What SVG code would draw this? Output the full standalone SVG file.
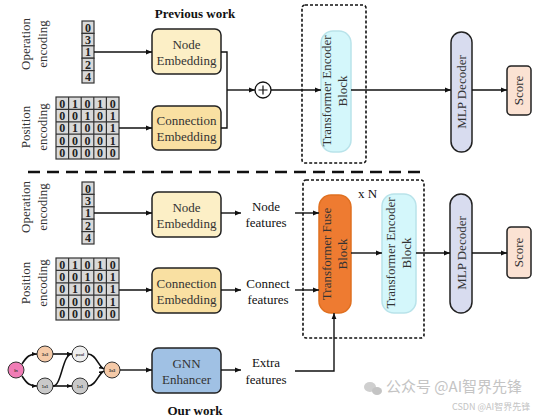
<svg xmlns="http://www.w3.org/2000/svg" xmlns:xlink="http://www.w3.org/1999/xlink" width="540" height="420" viewBox="0 0 540 420">
<defs>
<style>
.t{font-family:"Liberation Serif","Times New Roman",serif;font-size:13px;fill:#333;}
.b{font-weight:bold;fill:#111;}
.c{font-family:"Liberation Serif",serif;font-size:12px;font-weight:bold;fill:#222;text-anchor:middle;}
.cell{fill:#d9d9d9;stroke:#333;stroke-width:1.2;}
.box{stroke:#222;stroke-width:1.5;}
.ln{fill:none;stroke:#111;stroke-width:1.4;}
.gl{fill:none;stroke:#111;stroke-width:1.6;}
.gn{stroke:#333;stroke-width:1;}
.gt{font-family:"Liberation Sans",sans-serif;font-size:4px;font-weight:bold;fill:#333;text-anchor:middle;}
.m{text-anchor:middle;}
.wm{font-family:"Noto Sans CJK SC","Liberation Sans",sans-serif;fill:#c4c4c4;}
</style>
<marker id="ah" viewBox="0 0 10 10" refX="10" refY="5" markerWidth="6" markerHeight="6" orient="auto" markerUnits="userSpaceOnUse"><path d="M0,1 L10,5 L0,9 z" fill="#111"/></marker>
<marker id="ag" viewBox="0 0 10 10" refX="10" refY="5" markerWidth="5" markerHeight="5" orient="auto" markerUnits="userSpaceOnUse"><path d="M0,1 L10,5 L0,9 z" fill="#111"/></marker>
<g id="opcol">
<rect class="cell" x="0" y="0" width="12" height="12.4"/>
<rect class="cell" x="0" y="12.4" width="12" height="12.4"/>
<rect class="cell" x="0" y="24.8" width="12" height="12.4"/>
<rect class="cell" x="0" y="37.2" width="12" height="12.4"/>
<rect class="cell" x="0" y="49.6" width="12" height="12.4"/>
<text class="c" x="6" y="10.5">0</text>
<text class="c" x="6" y="22.9">3</text>
<text class="c" x="6" y="35.3">1</text>
<text class="c" x="6" y="47.7">2</text>
<text class="c" x="6" y="60.1">4</text>
</g>
<g id="matrix">
<rect class="cell" x="0" y="0" width="63" height="62"/>
<path d="M12.6,0V62M25.2,0V62M37.8,0V62M50.4,0V62M0,12.4H63M0,24.8H63M0,37.2H63M0,49.6H63" stroke="#333" stroke-width="1.2" fill="none"/>
<text class="c" y="10.5"><tspan x="6.3">0</tspan><tspan x="18.9">1</tspan><tspan x="31.5">0</tspan><tspan x="44.1">1</tspan><tspan x="56.7">0</tspan></text>
<text class="c" y="22.9"><tspan x="6.3">0</tspan><tspan x="18.9">0</tspan><tspan x="31.5">1</tspan><tspan x="44.1">0</tspan><tspan x="56.7">1</tspan></text>
<text class="c" y="35.3"><tspan x="6.3">0</tspan><tspan x="18.9">1</tspan><tspan x="31.5">0</tspan><tspan x="44.1">0</tspan><tspan x="56.7">1</tspan></text>
<text class="c" y="47.7"><tspan x="6.3">0</tspan><tspan x="18.9">0</tspan><tspan x="31.5">0</tspan><tspan x="44.1">0</tspan><tspan x="56.7">1</tspan></text>
<text class="c" y="60.1"><tspan x="6.3">0</tspan><tspan x="18.9">0</tspan><tspan x="31.5">0</tspan><tspan x="44.1">0</tspan><tspan x="56.7">0</tspan></text>
</g>
</defs>
<rect width="540" height="420" fill="#fff"/>

<!-- section titles -->
<text class="t b m" x="195" y="18">Previous work</text>
<text class="t b m" x="195" y="415">Our work</text>
<path d="M28,172 H420" stroke="#111" stroke-width="2.5" stroke-dasharray="12,7" fill="none"/>

<!-- dashed containers -->
<rect x="302" y="5" width="64" height="158" rx="3" fill="none" stroke="#111" stroke-width="1.6" stroke-dasharray="3,2"/>
<rect x="303" y="180" width="121" height="158" rx="3" fill="none" stroke="#111" stroke-width="1.6" stroke-dasharray="3,2"/>
<text class="t" x="358" y="198" style="fill:#111">x N</text>

<!-- ===== Previous work ===== -->
<g id="op-enc-top">
<text class="t" transform="translate(30,44) rotate(-90)" text-anchor="middle">Operation</text>
<text class="t" transform="translate(47,44) rotate(-90)" text-anchor="middle">encoding</text>
<use xlink:href="#opcol" x="82" y="21"/>
</g>
<g id="pos-enc-top">
<text class="t" transform="translate(30,127) rotate(-90)" text-anchor="middle">Position</text>
<text class="t" transform="translate(47,127) rotate(-90)" text-anchor="middle">encoding</text>
<use xlink:href="#matrix" x="56" y="97"/>
</g>
<g id="node-emb-top">
<rect class="box" x="152" y="29" width="69" height="45" rx="6" fill="#fcefc6"/>
<text class="t m" x="186.5" y="48.5">Node</text>
<text class="t m" x="186.5" y="64.5">Embedding</text>
</g>
<g id="conn-emb-top">
<rect class="box" x="152" y="106" width="69" height="44" rx="6" fill="#f9e0a2"/>
<text class="t m" x="186.5" y="125">Connection</text>
<text class="t m" x="186.5" y="141">Embedding</text>
</g>
<g id="plus">
<circle cx="263" cy="90" r="8" fill="#fff" stroke="#111" stroke-width="1.3"/>
<path d="M258.5,90H267.5M263,85.5V94.5" stroke="#111" stroke-width="1.2"/>
</g>
<g id="enc-top">
<rect class="box" x="321" y="31" width="30" height="121" rx="12" fill="#d4f7fb" stroke="#bfe6ee" style="stroke:#b9e3ea"/>
<text class="t" transform="translate(331,91) rotate(-90)" text-anchor="middle">Transformer Encoder</text>
<text class="t" transform="translate(347,91) rotate(-90)" text-anchor="middle">Block</text>
</g>
<g id="mlp-top">
<rect class="box" x="451" y="32" width="21" height="120" rx="10.5" fill="#d8dcef"/>
<text class="t" transform="translate(466,92) rotate(-90)" text-anchor="middle">MLP Decoder</text>
</g>
<g id="score-top">
<rect class="box" x="507" y="66" width="24" height="49" rx="4" fill="#fbe2d3"/>
<text class="t" transform="translate(523,90.5) rotate(-90)" text-anchor="middle">Score</text>
</g>

<!-- ===== Our work ===== -->
<g id="op-enc-bot">
<text class="t" transform="translate(30,207) rotate(-90)" text-anchor="middle">Operation</text>
<text class="t" transform="translate(47,207) rotate(-90)" text-anchor="middle">encoding</text>
<use xlink:href="#opcol" x="82" y="182"/>
</g>
<g id="pos-enc-bot">
<text class="t" transform="translate(30,283) rotate(-90)" text-anchor="middle">Position</text>
<text class="t" transform="translate(47,283) rotate(-90)" text-anchor="middle">encoding</text>
<use xlink:href="#matrix" x="56" y="258"/>
</g>
<g id="graph">
<circle class="gn" cx="16" cy="370" r="8" fill="#f07db6"/>
<circle class="gn" cx="45" cy="354" r="8" fill="#f5caa8"/>
<circle class="gn" cx="45" cy="386" r="8" fill="#c9c9c9"/>
<circle class="gn" cx="80" cy="354" r="8" fill="#efefef"/>
<circle class="gn" cx="80" cy="386" r="8" fill="#c9c9c9"/>
<circle class="gn" cx="112" cy="370" r="8" fill="#f5caa8"/>
<text class="gt" x="16" y="371.5">In</text>
<text class="gt" x="45" y="355.5">3x3</text>
<text class="gt" x="45" y="387.5">1x1</text>
<text class="gt" x="80" y="355.5">pool</text>
<text class="gt" x="80" y="387.5">1x1</text>
<text class="gt" x="112" y="371.5">3x3</text>
</g>
<g id="node-emb-bot">
<rect class="box" x="152" y="192" width="69" height="45" rx="6" fill="#fcefc6"/>
<text class="t m" x="186.5" y="211.5">Node</text>
<text class="t m" x="186.5" y="227.5">Embedding</text>
</g>
<g id="conn-emb-bot">
<rect class="box" x="152" y="268" width="69" height="45" rx="6" fill="#f9e0a2"/>
<text class="t m" x="186.5" y="287.5">Connection</text>
<text class="t m" x="186.5" y="303.5">Embedding</text>
</g>
<g id="gnn">
<rect class="box" x="152" y="348" width="69" height="45" rx="6" fill="#a0c1e4"/>
<text class="t m" x="186.5" y="367.5">GNN</text>
<text class="t m" x="186.5" y="383.5">Enhancer</text>
</g>
<g id="feat-labels">
<text class="t m" x="266" y="211" style="fill:#111">Node</text>
<text class="t m" x="266" y="227" style="fill:#111">features</text>
<text class="t m" x="268" y="288" style="fill:#111">Connect</text>
<text class="t m" x="268" y="304" style="fill:#111">features</text>
<text class="t m" x="266" y="367" style="fill:#111">Extra</text>
<text class="t m" x="266" y="384" style="fill:#111">features</text>
</g>
<g id="fuse">
<rect class="box" x="319" y="195" width="32" height="118" rx="12" fill="#ee7b31" style="stroke:#e07020"/>
<text class="t" transform="translate(331,254) rotate(-90)" text-anchor="middle">Transformer Fuse</text>
<text class="t" transform="translate(347,254) rotate(-90)" text-anchor="middle">Block</text>
</g>
<g id="enc-bot">
<rect class="box" x="382" y="194" width="34" height="119" rx="12" fill="#d4f7fb" style="stroke:#b9e3ea"/>
<text class="t" transform="translate(395,253) rotate(-90)" text-anchor="middle">Transformer Encoder</text>
<text class="t" transform="translate(411,253) rotate(-90)" text-anchor="middle">Block</text>
</g>
<g id="mlp-bot">
<rect class="box" x="450" y="194" width="22" height="119" rx="11" fill="#d8dcef"/>
<text class="t" transform="translate(465.5,253) rotate(-90)" text-anchor="middle">MLP Decoder</text>
</g>
<g id="score-bot">
<rect class="box" x="507" y="227" width="24" height="51" rx="4" fill="#fbe2d3"/>
<text class="t" transform="translate(523,252.5) rotate(-90)" text-anchor="middle">Score</text>
</g>

<!-- connectors -->
<g id="connectors">
<path class="ln" d="M94,52H152" marker-end="url(#ah)"/>
<path class="ln" d="M119,128H152" marker-end="url(#ah)"/>
<path class="ln" d="M221,52H227V128H221"/>
<path class="ln" d="M227,90H255" marker-end="url(#ah)"/>
<path class="ln" d="M271,90H321" marker-end="url(#ah)"/>
<path class="ln" d="M351,90H451" marker-end="url(#ah)"/>
<path class="ln" d="M472,90H507" marker-end="url(#ah)"/>

<path class="ln" d="M94,213H152" marker-end="url(#ah)"/>
<path class="ln" d="M119,290H152" marker-end="url(#ah)"/>
<path class="ln" d="M120,370H152" marker-end="url(#ah)"/>
<path class="ln" d="M221,213H241" marker-end="url(#ah)"/>
<path class="ln" d="M221,290H241" marker-end="url(#ah)"/>
<path class="ln" d="M221,370H241" marker-end="url(#ah)"/>
<path class="ln" d="M295,213H319" marker-end="url(#ah)"/>
<path class="ln" d="M295,290H319" marker-end="url(#ah)"/>
<path class="ln" d="M295,371H334V313" marker-end="url(#ah)"/>
<path class="ln" d="M351,253H382" marker-end="url(#ah)"/>
<path class="ln" d="M416,253H450" marker-end="url(#ah)"/>
<path class="ln" d="M472,253H507" marker-end="url(#ah)"/>

<path class="gl" d="M22,364 C27,356 30,354 37,354" marker-end="url(#ag)"/>
<path class="gl" d="M22,376 C27,384 30,386 37,386" marker-end="url(#ag)"/>
<path class="gl" d="M53,354H72" marker-end="url(#ag)"/>
<path class="gl" d="M53,386H72" marker-end="url(#ag)"/>
<path class="gl" d="M53,386 C62,386 62,354 72,354" marker-end="url(#ag)"/>
<path class="gl" d="M88,354 C96,354 98,366 104,369" marker-end="url(#ag)"/>
<path class="gl" d="M88,386 C96,386 98,374 104,371" marker-end="url(#ag)"/>
</g>

<!-- watermark -->
<g id="watermark">
<ellipse cx="370" cy="387" rx="6" ry="5" fill="#cfcfcf"/>
<ellipse cx="377" cy="391" rx="5" ry="4" fill="#c4c4c4"/>
<text class="wm" x="386" y="392" font-size="15">公众号 @AI智界先锋</text>
<text class="wm" x="452" y="410" font-size="9">CSDN @AI智界先锋</text>
</g>
</svg>
